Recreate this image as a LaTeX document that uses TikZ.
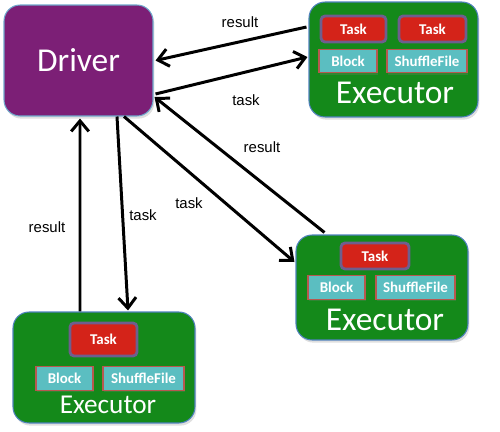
\documentclass[tikz,border=0pt]{standalone}
\usepackage{fontspec}
\setmainfont{Carlito}
\newfontfamily\lblfont{Liberation Sans}
\usetikzlibrary{arrows.meta,shadows}

\definecolor{drvpurple}{HTML}{7C1F76}
\definecolor{drvedge}{HTML}{6FA8CC}
\definecolor{exegreen}{HTML}{14891A}
\definecolor{exeedge}{HTML}{4F81BD}
\definecolor{taskred}{HTML}{D42319}
\definecolor{taskedge}{HTML}{6E5E8E}
\definecolor{blkcyan}{HTML}{5BBEC1}
\definecolor{blkedge}{HTML}{B8584F}

\begin{document}
\begin{tikzpicture}[x=0.02cm,y=-0.02cm,
  driverbox/.style={draw=drvedge, line width=0.6pt, fill=drvpurple, rounded corners=0.32cm,
    drop shadow={opacity=0.25, shadow xshift=0.8pt, shadow yshift=-1.5pt},
    text=white, font=\fontsize{19}{22}\selectfont, inner sep=0pt},
  execbox/.style={draw=exeedge, line width=0.6pt, fill=exegreen, rounded corners=0.32cm,
    drop shadow={opacity=0.25, shadow xshift=0.8pt, shadow yshift=-1.5pt}, inner sep=0pt},
  exectext/.style={text=white, font=\fontsize{19}{22}\selectfont, inner sep=0pt},
  taskbox/.style={draw=taskedge, line width=1.6pt, fill=taskred, rounded corners=0.08cm,
    text=white, font=\fontsize{8.5}{10}\selectfont\bfseries, inner sep=0pt,
    minimum height=0.52cm},
  blkbox/.style={draw=blkedge, line width=0.6pt, fill=blkcyan,
    drop shadow={opacity=0.25, shadow xshift=0.6pt, shadow yshift=-1pt},
    text=white, font=\fontsize{8.5}{10}\selectfont\bfseries, inner sep=0pt,
    minimum height=0.47cm},
  flow/.style={line width=1.7pt, -{Straight Barb[length=6pt,width=10pt,line width=1.7pt]}},
  lbl/.style={font=\lblfont\fontsize{8.5}{10}\selectfont, inner sep=1pt}]

\useasboundingbox (0,0) rectangle (500,432);

% driver
\node[driverbox, minimum width=2.98cm, minimum height=2.22cm] (driver) at (78.5,60.5) {Driver};

% executor top right
\node[execbox, minimum width=3.38cm, minimum height=2.30cm] (exeA) at (393.5,59.5) {};
\node[taskbox, minimum width=1.30cm] (taskA1) at (353.5,29) {Task};
\node[taskbox, minimum width=1.34cm] (taskA2) at (432.5,29) {Task};
\node[blkbox, minimum width=1.16cm] (blockA) at (348,61) {Block};
\node[blkbox, minimum width=1.60cm] (shufA) at (427,61) {ShuffleFile};
\node[exectext] (nameA) at (395,93) {Executor};

% executor middle right
\node[execbox, minimum width=3.44cm, minimum height=2.10cm] (exeB) at (382,287.5) {};
\node[taskbox, minimum width=1.36cm] (taskB) at (375,256) {Task};
\node[blkbox, minimum width=1.14cm] (blockB) at (336.5,287.5) {Block};
\node[blkbox, minimum width=1.58cm] (shufB) at (415.5,287.5) {ShuffleFile};
\node[exectext] (nameB) at (385,320) {Executor};

% executor bottom left
\node[execbox, minimum width=3.64cm, minimum height=2.22cm] (exeC) at (104,367.5) {};
\node[taskbox, minimum width=1.34cm, minimum height=0.66cm] (taskC) at (103.5,339.5) {Task};
\node[blkbox, minimum width=1.14cm] (blockC) at (64.5,378.5) {Block};
\node[blkbox, minimum width=1.62cm] (shufC) at (143.5,378.5) {ShuffleFile};
\node[exectext, font=\fontsize{15.5}{18}\selectfont] (nameC) at (108,405) {Executor};

% connectors
\draw[flow] ([xshift=-0.04cm,yshift=0.65cm]exeA.west) -- ([xshift=0.04cm]driver.east);
\draw[flow] ([xshift=0.04cm,yshift=-0.67cm]driver.east) -- ([xshift=-0.02cm,yshift=0.05cm]exeA.west);
\draw[flow] ([xshift=0.58cm,yshift=0.04cm]exeB.north west) -- ([xshift=0.02cm,yshift=-0.73cm]driver.east);
\draw[flow] ([xshift=0.91cm]driver.south) -- ([xshift=-0.02cm,yshift=0.51cm]exeB.west);
\draw[flow] ([xshift=0.77cm]driver.south) -- ([xshift=0.48cm,yshift=0.02cm]exeC.north);
\draw[flow] ([xshift=-0.48cm]exeC.north) -- ([xshift=0.03cm,yshift=-0.04cm]driver.south);

% labels
\node[lbl] (resA) at (240,22) {result};
\node[lbl] (tskA) at (246,100) {task};
\node[lbl] (resB) at (262,147) {result};
\node[lbl] (tskB) at (189,203) {task};
\node[lbl] (tskC) at (143,215) {task};
\node[lbl] (resC) at (47,227) {result};

\end{tikzpicture}
\end{document}
